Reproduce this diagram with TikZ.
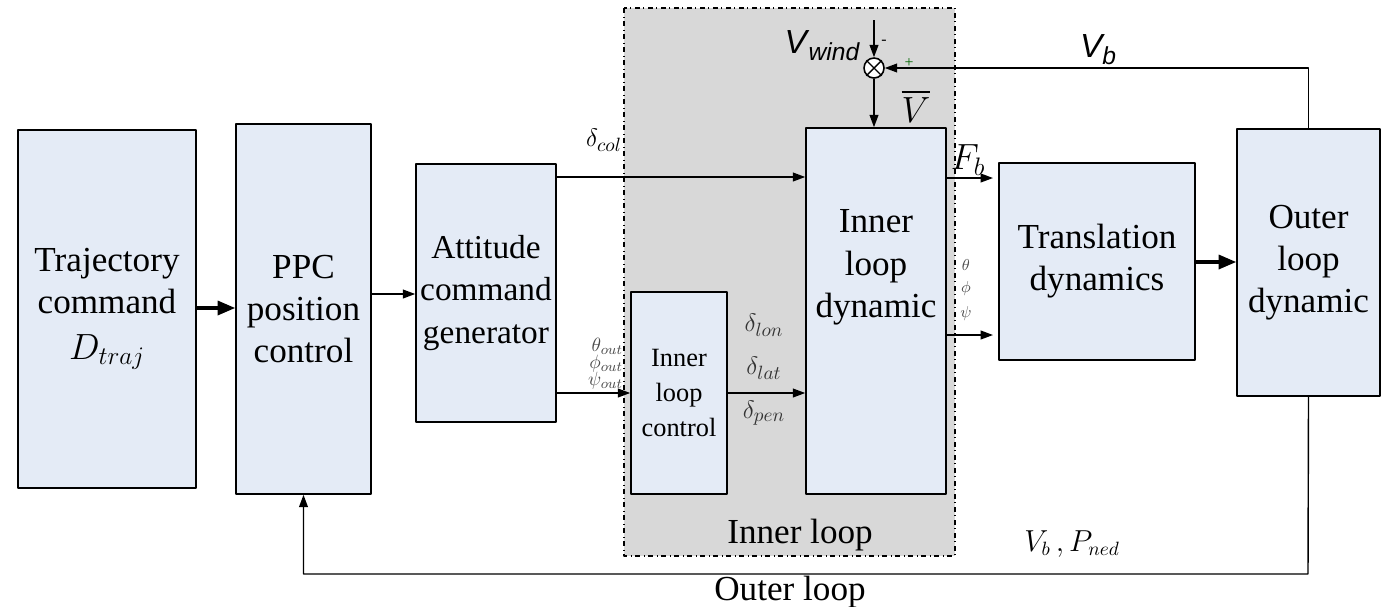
\documentclass[tikz,border=0pt]{standalone}
\usepackage{amsmath}
\usepackage{fontspec}
\setmainfont{Liberation Serif}
\setsansfont{Liberation Sans}
\usetikzlibrary{arrows.meta,calc,positioning}
\definecolor{boxfill}{RGB}{228,235,246}
\definecolor{loopgray}{RGB}{216,216,216}
\begin{document}
\begin{tikzpicture}[x=0.02cm, y=-0.02cm, line join=round, >={Triangle[length=7pt,width=5pt]},
  blk/.style={draw, fill=boxfill, line width=0.9pt, align=center, inner sep=1pt, font=\fontsize{20}{24}\selectfont},
  sig/.style={font=\fontsize{15}{16}\selectfont},
  sml/.style={font=\fontsize{9}{10}\selectfont, text=black!70},
  bigtip/.style={-{Triangle[length=10pt,width=8pt]}, line width=1.8pt}]
	\useasboundingbox (0,0) rectangle (1393,606);
	% inner loop region
	\draw[fill=loopgray, dash dot, line width=0.9pt] (624,8) rectangle (955,556);
	% blocks
	\node[blk, minimum width=178*0.02cm, minimum height=358*0.02cm] (traj) at (107,309) {Trajectory\\command\\[2pt]$D_{traj}$};
	\node[blk, minimum width=135*0.02cm, minimum height=370*0.02cm] (ppc) at (303.5,309) {PPC\\position\\control};
	\node[blk, minimum width=140*0.02cm, minimum height=258*0.02cm, font=\fontsize{19}{24}\selectfont] (att) at (486,293) {Attitude\\command\\generator};
	\node[blk, minimum width=96*0.02cm, minimum height=202*0.02cm, font=\fontsize{15}{20}\selectfont] (ilc) at (679,393) {Inner\\loop\\control};
	\node[blk, minimum width=140*0.02cm, minimum height=366*0.02cm] (dyn) at (876,311) {Inner\\loop\\dynamic\\[30pt]};
	\node[blk, minimum width=196*0.02cm, minimum height=197*0.02cm] (tra) at (1097,261.5) {Translation\\dynamics};
	\node[blk, minimum width=143*0.02cm, minimum height=267*0.02cm] (out) at (1308.5,262.5) {Outer\\loop\\dynamic};
	\node[draw, circle, fill=white, line width=0.9pt, minimum size=20*0.02cm, inner sep=0pt] (sum) at (874,68) {};
	\draw[line width=0.8pt] (sum.north west) -- (sum.south east) (sum.north east) -- (sum.south west);
	% connectors
	\draw[bigtip] (traj.east |- 0,308) -- (ppc.west |- 0,308);
	\draw[->, line width=0.8pt] (ppc.east |- 0,294) -- (att.west |- 0,294);
	\draw[->, line width=0.8pt] (att.east |- 0,177) -- (dyn.west |- 0,177);
	\draw[->, line width=0.8pt] (att.east |- 0,393) -- (ilc.west |- 0,393);
	\draw[->, line width=0.8pt] (ilc.east |- 0,393) -- (dyn.west |- 0,393);
	\coordinate (fbend) at (993,178);
	\draw[->, line width=0.8pt] (dyn.east |- 0,178) -- (fbend);
	\coordinate (angend) at (993,335);
	\draw[->, line width=0.8pt] (dyn.east |- 0,335) -- (angend);
	\draw[bigtip] (tra.east |- 0,262) -- (out.west |- 0,262);
	\coordinate (wind) at (874,20);
	\draw[->, line width=0.8pt] (wind) -- (sum.north);
	\draw[->, line width=0.8pt] (sum.south) -- (dyn.north -| sum);
	\draw[->, line width=0.8pt] (out.north) |- (sum.east);
	\draw[->, line width=0.8pt] (out.south) -- (1308,574) -| (ppc.south);
	% labels
	\node[font=\sffamily\itshape\fontsize{19}{20}\selectfont] at (822,46) {V\kern1pt\raisebox{-4pt}{\fontsize{14}{14}\selectfont wind}};
	\node[font=\small] at (884,42) {-};
	\node[font=\small, text=green!40!black] at (909,63) {+};
	\node[font=\sffamily\itshape\fontsize{19}{20}\selectfont] at (1098,50) {V\raisebox{-4pt}{\fontsize{14}{14}\selectfont b}};
	\node[font=\fontsize{20}{22}\selectfont] at (916,106) {$\overline{V}$};
	\node[sig] at (604,140) {$\delta_{col}$};
	\node[font=\fontsize{20}{22}\selectfont] at (968,160) {$F_b$};
	\node[sml] at (966,265) {$\theta$};
	\node[sml] at (966,289) {$\phi$};
	\node[sml] at (966,314) {$\psi$};
	\node[sml, anchor=east, font=\fontsize{11}{12}\selectfont, inner sep=1pt] at (625,346) {$\theta_{out}$};
	\node[sml, anchor=east, font=\fontsize{11}{12}\selectfont, inner sep=1pt] at (625,364) {$\phi_{out}$};
	\node[sml, anchor=east, font=\fontsize{11}{12}\selectfont, inner sep=1pt] at (625,381) {$\psi_{out}$};
	\node[sig, text=black!80] at (764,325) {$\delta_{lon}$};
	\node[sig, text=black!80] at (764,368) {$\delta_{lat}$};
	\node[sig, text=black!80] at (764,413) {$\delta_{pen}$};
	\node[font=\fontsize{20}{22}\selectfont] at (800,535) {Inner loop};
	\node[font=\fontsize{16}{18}\selectfont] at (1072,544) {$V_b\,,P_{ned}$};
	\node[font=\fontsize{20}{22}\selectfont] at (790,592) {Outer loop};
\end{tikzpicture}
\end{document}
